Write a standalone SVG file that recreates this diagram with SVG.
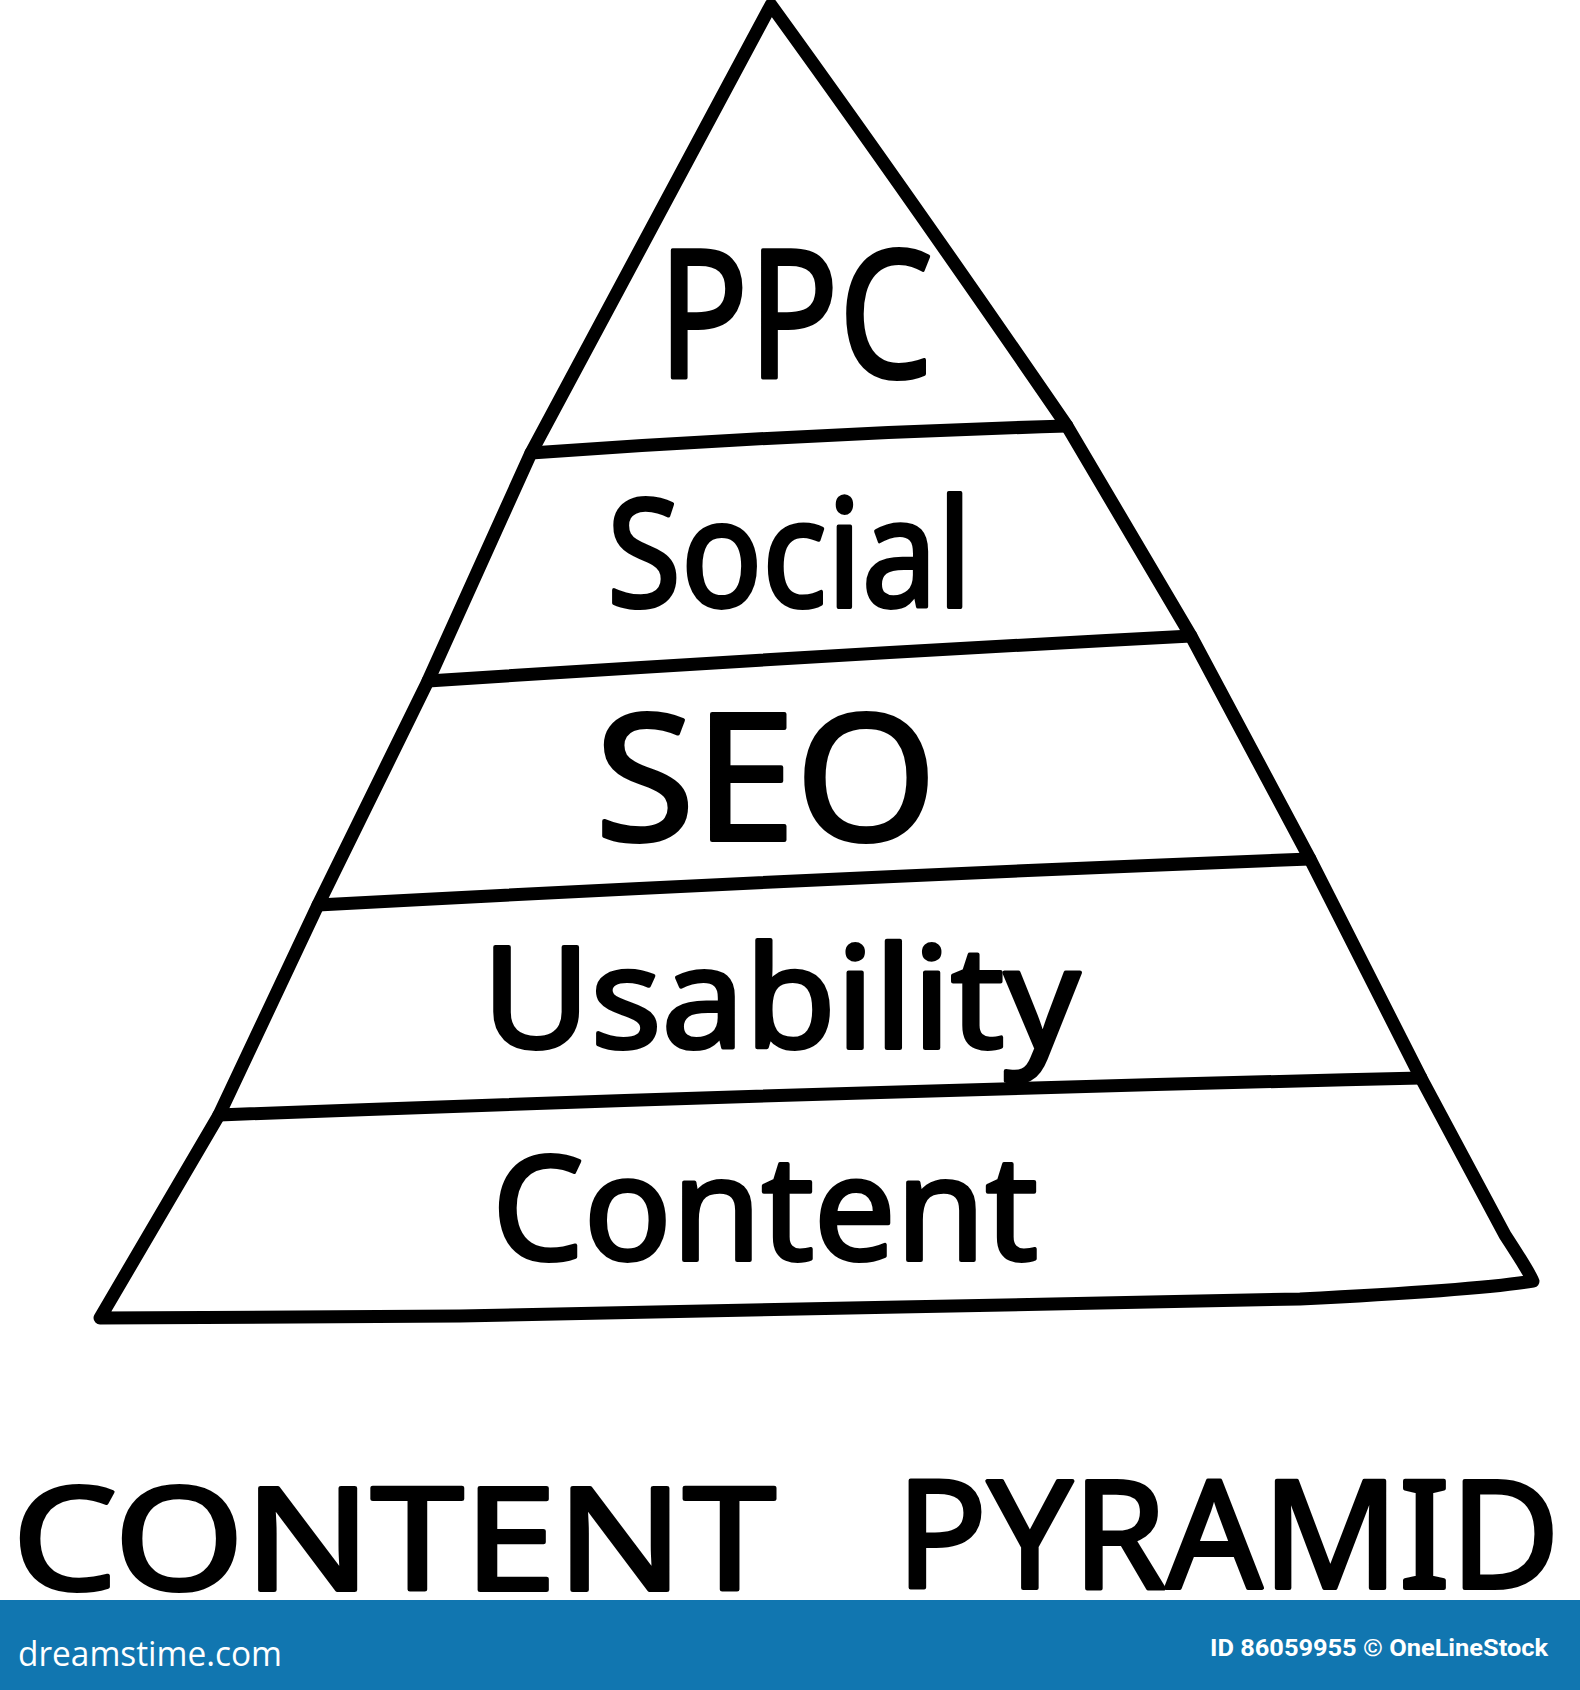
<svg xmlns="http://www.w3.org/2000/svg" width="1580" height="1690" viewBox="0 0 1580 1690">
<style>
.ln{fill:none;stroke:#000;stroke-width:13;stroke-linecap:round;stroke-linejoin:round}
.hand{font-family:"Noto Sans","DejaVu Sans",sans-serif;fill:#000;stroke:#000;stroke-width:4;stroke-linejoin:round}
.wm{font-family:"Open Sans","Noto Sans",sans-serif;fill:#fff}
.id{font-family:Roboto,"Liberation Sans",sans-serif;font-weight:bold;fill:#fff}
</style>
<rect width="1580" height="1690" fill="#fff"/>
<g id="pyramid-outline">
<path class="ln" d="M100,1318 L219,1115 L318,905 L428,681 L531,453 Q650,230 771,5 Q905,190 1067,426 L1191,636 L1310,859 L1421,1078 L1505,1235 Q1533,1278 1533,1281 Q1480,1290 1300,1299 L900,1307 L460,1316 Z"/>
</g>
<g id="connectors">
<path class="ln" d="M531,453 Q800,434 1067,426"/>
<path class="ln" d="M428,681 Q810,656 1191,636"/>
<path class="ln" d="M318,905 Q820,878 1310,859"/>
<path class="ln" d="M219,1115 Q820,1092 1421,1078"/>
</g>
<g id="layer-ppc"><text class="hand" x="658" y="377" font-size="178" textLength="275" lengthAdjust="spacingAndGlyphs">PPC</text></g>
<g id="layer-social"><text class="hand" x="607" y="607" font-size="150" textLength="365" lengthAdjust="spacingAndGlyphs">Social</text></g>
<g id="layer-seo"><text class="hand" x="595" y="840" font-size="175" textLength="342" lengthAdjust="spacingAndGlyphs">SEO</text></g>
<g id="layer-usability"><text class="hand" x="482" y="1048" font-size="140" textLength="598" lengthAdjust="spacingAndGlyphs">Usability</text></g>
<g id="layer-content"><text class="hand" x="492" y="1260" font-size="145" textLength="546" lengthAdjust="spacingAndGlyphs">Content</text></g>
<g id="title">
<text class="hand" x="12" y="1590" font-size="142" stroke-width="6" textLength="764" lengthAdjust="spacingAndGlyphs">CONTENT</text>
<text class="hand" x="896" y="1588" font-size="150" stroke-width="6" textLength="664" lengthAdjust="spacingAndGlyphs">PYRAMID</text>
</g>
<g id="footer">
<rect x="0" y="1600" width="1580" height="90" fill="#1176b0"/>
<text class="wm" x="18" y="1666" font-size="34" textLength="264" lengthAdjust="spacingAndGlyphs">dreamstime.com</text>
<text class="id" x="1210" y="1656" font-size="24" textLength="338" lengthAdjust="spacingAndGlyphs">ID 86059955 © OneLineStock</text>
</g>
</svg>
